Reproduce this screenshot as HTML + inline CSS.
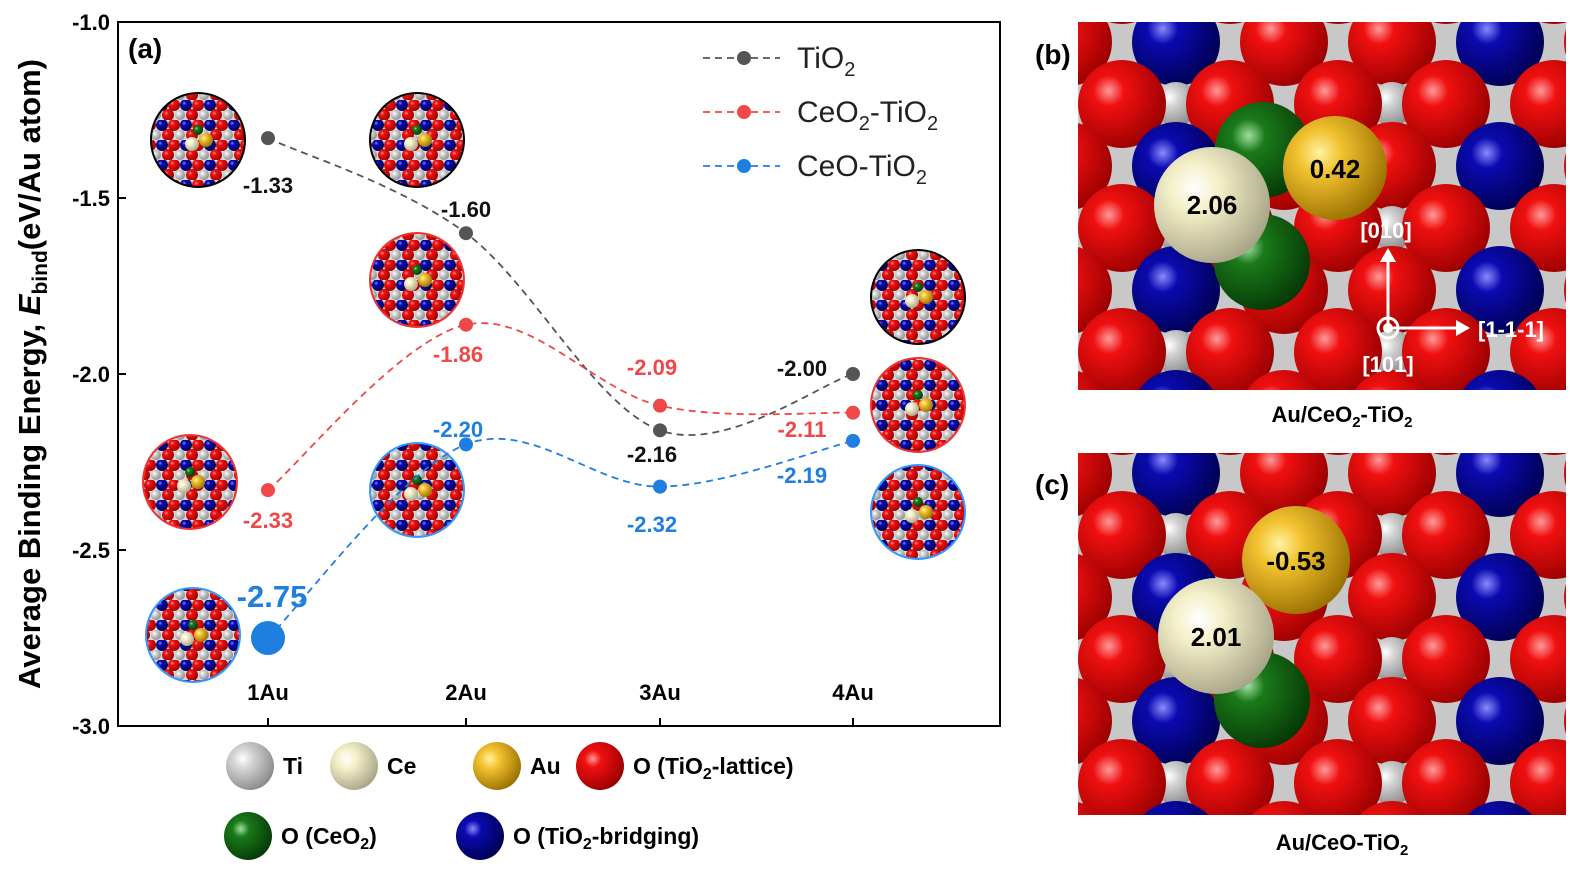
<!DOCTYPE html>
<html><head><meta charset="utf-8">
<style>
html,body{margin:0;background:#fff;overflow:hidden;width:1570px;height:872px;}
svg{display:block;font-family:"Liberation Sans",Arial,sans-serif;font-weight:bold;}
</style></head>
<body>
<svg id="s" width="1570" height="872" viewBox="0 0 1570 872" xmlns="http://www.w3.org/2000/svg">
<defs>
<radialGradient id="gR" cx="35%" cy="35%" r="70%"><stop offset="0" stop-color="#ff9a9a"/><stop offset="0.25" stop-color="#f01010"/><stop offset="1" stop-color="#9a0000"/></radialGradient>
<radialGradient id="gB" cx="35%" cy="35%" r="70%"><stop offset="0" stop-color="#8a8aff"/><stop offset="0.25" stop-color="#0a0ab0"/><stop offset="1" stop-color="#000050"/></radialGradient>
<radialGradient id="gG" cx="35%" cy="35%" r="70%"><stop offset="0" stop-color="#a0e0a0"/><stop offset="0.25" stop-color="#1a7a1a"/><stop offset="1" stop-color="#063806"/></radialGradient>
<radialGradient id="gY" cx="35%" cy="35%" r="70%"><stop offset="0" stop-color="#fff2a0"/><stop offset="0.3" stop-color="#f2c230"/><stop offset="1" stop-color="#9a7000"/></radialGradient>
<radialGradient id="gC" cx="35%" cy="35%" r="70%"><stop offset="0" stop-color="#ffffff"/><stop offset="0.3" stop-color="#f4f0c8"/><stop offset="1" stop-color="#a8a488"/></radialGradient>
<radialGradient id="gW" cx="35%" cy="35%" r="70%"><stop offset="0" stop-color="#ffffff"/><stop offset="0.3" stop-color="#d4d4d4"/><stop offset="1" stop-color="#8a8a8a"/></radialGradient>
<pattern id="lat" width="24" height="20" patternUnits="userSpaceOnUse">
<rect width="24" height="20" fill="#d8d8d8"/>
<circle cx="6" cy="5" r="6" fill="url(#gR)"/><circle cx="18" cy="5" r="6" fill="url(#gB)"/>
<circle cx="0" cy="15" r="6" fill="url(#gR)"/><circle cx="24" cy="15" r="6" fill="url(#gR)"/><circle cx="12" cy="15" r="5" fill="url(#gW)"/>
</pattern>
<clipPath id="cb"><rect x="1078" y="22" width="488" height="368"/></clipPath>
<clipPath id="cc"><rect x="1078" y="453" width="488" height="362"/></clipPath>
</defs>
<g id="plot"></g>
</svg>
<script>
const s=document.getElementById('s');
let h='';
h+='<rect x="118" y="22" width="882" height="704" fill="none" stroke="#000" stroke-width="2"/>';
const Y=v=>22+(-1-v)/2*704;
[-1,-1.5,-2,-2.5,-3].forEach(v=>{const y=Y(v);h+=`<line x1="118" y1="${y}" x2="126" y2="${y}" stroke="#000" stroke-width="2"/><text x="110" y="${y+8}" font-size="22" text-anchor="end">${v.toFixed(1)}</text>`;});
const X=[268,466,660,853];
X.forEach((x,i)=>{h+=`<line x1="${x}" y1="726" x2="${x}" y2="718" stroke="#000" stroke-width="2"/><text x="${x}" y="700" font-size="22" text-anchor="middle">${i+1}Au</text>`;});
h+='<text transform="translate(40,374) rotate(-90)" font-size="31" text-anchor="middle">Average Binding Energy, <tspan font-style="italic">E</tspan><tspan font-size="21" dy="7">bind</tspan><tspan dy="-7">(eV/Au atom)</tspan></text>';
h+='<text x="128" y="58" font-size="28">(a)</text>';
[[198,140,'#000'],[417,140,'#000'],[417,280,'#e33'],[918,297,'#000'],[918,405,'#e33'],[918,512,'#39f'],[190,482,'#e33'],[417,490,'#39f'],[193,635,'#39f']].forEach(([x,y,c])=>{
h+=`<circle cx="${x}" cy="${y}" r="47" fill="url(#lat)" stroke="${c}" stroke-width="2"/>`;
h+=`<circle cx="${x+8}" cy="${y}" r="7" fill="url(#gY)"/><circle cx="${x-6}" cy="${y+4}" r="7" fill="url(#gC)"/><circle cx="${x}" cy="${y-10}" r="5" fill="url(#gG)"/>`;});
function cr(p){let d=`M${p[0][0]},${p[0][1]}`;for(let i=0;i<p.length-1;i++){const p0=p[i-1]||p[i],p1=p[i],p2=p[i+1],p3=p[i+2]||p2;d+=` C${p1[0]+(p2[0]-p0[0])/6},${p1[1]+(p2[1]-p0[1])/6} ${p2[0]-(p3[0]-p1[0])/6},${p2[1]-(p3[1]-p1[1])/6} ${p2[0]},${p2[1]}`;}return d;}
const ser=[['#555',[-1.33,-1.60,-2.16,-2.00]],['#f04848',[-2.33,-1.86,-2.09,-2.11]],['#1f7fe0',[-2.75,-2.20,-2.32,-2.19]]];
ser.forEach(([c,v],k)=>{const p=v.map((a,i)=>[X[i],Y(a)]);h+=`<path d="${cr(p)}" fill="none" stroke="${c}" stroke-width="1.8" stroke-dasharray="7,5"/>`;
p.forEach((q,i)=>{h+=`<circle cx="${q[0]}" cy="${q[1]}" r="${k==2&&i==0?17:7}" fill="${c}"/>`;});});
const lab=[[268,193,'#111','-1.33'],[466,217,'#111','-1.60'],[652,462,'#111','-2.16'],[802,376,'#111','-2.00'],
[268,528,'#f04848','-2.33'],[458,362,'#f04848','-1.86'],[652,375,'#f04848','-2.09'],[802,437,'#f04848','-2.11'],
[458,437,'#1f7fe0','-2.20'],[652,532,'#1f7fe0','-2.32'],[802,483,'#1f7fe0','-2.19']];
lab.forEach(([x,y,c,t])=>h+=`<text x="${x}" y="${y}" font-size="22" fill="${c}" text-anchor="middle">${t}</text>`);
h+='<text x="272" y="607" font-size="31" fill="#1f7fe0" text-anchor="middle">-2.75</text>';
[['#555',58,'TiO<tspan font-size="20" dy="8">2</tspan>'],['#f04848',112,'CeO<tspan font-size="20" dy="8">2</tspan><tspan dy="-8">-TiO</tspan><tspan font-size="20" dy="8">2</tspan>'],['#1f7fe0',166,'CeO-TiO<tspan font-size="20" dy="8">2</tspan>']].forEach(([c,y,t])=>{
h+=`<line x1="703" y1="${y}" x2="780" y2="${y}" stroke="${c}" stroke-width="1.8" stroke-dasharray="7,5"/><circle cx="744" cy="${y}" r="7" fill="${c}"/><text x="797" y="${y+10}" font-size="30" font-weight="normal" fill="#222">${t}</text>`;});
[[250,766,'gW','Ti'],[354,766,'gC','Ce'],[497,766,'gY','Au'],[600,766,'gR','O (TiO<tspan font-size="16" dy="5">2</tspan><tspan dy="-5">-lattice)</tspan>'],[248,836,'gG','O (CeO<tspan font-size="16" dy="5">2</tspan><tspan dy="-5">)</tspan>'],[480,836,'gB','O (TiO<tspan font-size="16" dy="5">2</tspan><tspan dy="-5">-bridging)</tspan>']].forEach(([x,y,g,t])=>{
h+=`<circle cx="${x}" cy="${y}" r="24" fill="url(#${g})"/><text x="${x+33}" y="${y+8}" font-size="23">${t}</text>`;});
function panel(y0,hh,clip){let g=`<g clip-path="url(#${clip})"><rect x="1078" y="${y0}" width="488" height="${hh}" fill="#c8c8c8"/>`;
for(let r=-1;r<8;r++){for(let c=-1;c<6;c++){const x=1078+c*108+(r%2?54:0)-10, y=y0+r*62+20;
const blue=((c+ (r%2?1:0))%3==1)&&r%2==0; const white=(r%2==1&&c%2==0);
if(white)g+=`<circle cx="${x+54}" cy="${y}" r="22" fill="url(#gW)"/>`;
g+=`<circle cx="${x}" cy="${y}" r="44" fill="url(#${blue?'gB':'gR'})"/>`;}}
return g;}
let b=panel(22,368,'cb');
b+='<circle cx="1263" cy="150" r="48" fill="url(#gG)"/><circle cx="1262" cy="262" r="48" fill="url(#gG)"/><circle cx="1335" cy="168" r="52" fill="url(#gY)"/><circle cx="1212" cy="205" r="58" fill="url(#gC)"/>';
b+='<text x="1335" y="178" font-size="26" text-anchor="middle">0.42</text><text x="1212" y="214" font-size="26" text-anchor="middle">2.06</text>';
b+='<line x1="1388" y1="328" x2="1388" y2="258" stroke="#fff" stroke-width="3"/><path d="M1380,262 L1388,248 L1396,262Z" fill="#fff"/><line x1="1388" y1="328" x2="1460" y2="328" stroke="#fff" stroke-width="3"/><path d="M1456,320 L1470,328 L1456,336Z" fill="#fff"/><circle cx="1388" cy="328" r="10" fill="none" stroke="#fff" stroke-width="3"/><circle cx="1388" cy="328" r="5" fill="#fff"/>';
b+='<text x="1386" y="238" font-size="22" fill="#fff" text-anchor="middle">[010]</text><text x="1388" y="372" font-size="22" fill="#fff" text-anchor="middle">[101]</text><text x="1478" y="337" font-size="22" fill="#fff">[1-1-1]</text></g>';
b+='<text x="1342" y="422" font-size="22" text-anchor="middle">Au/CeO<tspan font-size="15" dy="5">2</tspan><tspan dy="-5">-TiO</tspan><tspan font-size="15" dy="5">2</tspan></text><text x="1035" y="64" font-size="28">(b)</text>';
let c=panel(453,362,'cc');
c+='<circle cx="1262" cy="700" r="48" fill="url(#gG)"/><circle cx="1296" cy="560" r="54" fill="url(#gY)"/><circle cx="1216" cy="636" r="58" fill="url(#gC)"/>';
c+='<text x="1296" y="570" font-size="26" text-anchor="middle">-0.53</text><text x="1216" y="646" font-size="26" text-anchor="middle">2.01</text></g>';
c+='<text x="1342" y="850" font-size="22" text-anchor="middle">Au/CeO-TiO<tspan font-size="15" dy="5">2</tspan></text><text x="1035" y="494" font-size="28">(c)</text>';
document.getElementById('plot').innerHTML=h+b+c;
</script>
</body></html>
